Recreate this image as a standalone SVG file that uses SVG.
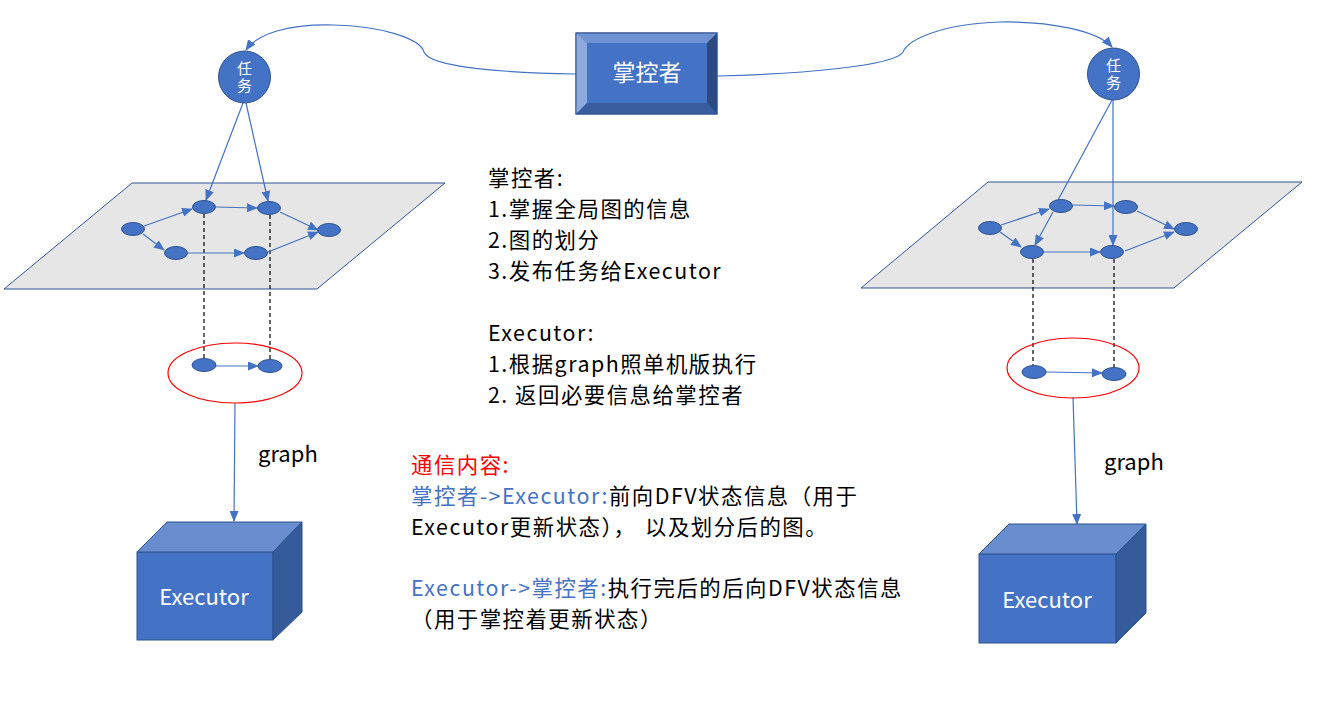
<svg xmlns="http://www.w3.org/2000/svg" width="1317" height="725" viewBox="0 0 1317 725">
<style>
.cn{font-family:"Noto Sans CJK SC","Liberation Sans",sans-serif}
.plane{fill:#e6e6e6;stroke:#2f5597;stroke-width:1}
.nd{fill:#4472c4;stroke:#2f528f;stroke-width:1}
.ed{stroke:#4472c4;stroke-width:1.2;fill:none;marker-end:url(#ah)}
.ln{stroke:#4472c4;stroke-width:1.2;fill:none}
.dash{stroke:#000;stroke-width:1.2;stroke-dasharray:4,3;fill:none}
.red{fill:none;stroke:#ff0000;stroke-width:1.2}
.txt{font-size:21.4px;letter-spacing:1.5px;fill:#000}
.lbl{font-size:22px;fill:#000}
.blue{fill:#4472c4}
.redt{fill:#ff0000}
.white{fill:#fff}
.vt{writing-mode:vertical-rl;font-size:15px;letter-spacing:2px}
</style>
<defs>
<marker id="ah" markerUnits="userSpaceOnUse" markerWidth="11" markerHeight="9" refX="10" refY="4.5" orient="auto">
<path d="M0,0 L11,4.5 L0,9 Z" fill="#4472c4"/>
</marker>
</defs>
<rect width="1317" height="725" fill="#fff"/>

<g id="plane-left">
<polygon class="plane" points="132,183 445,183 317,289 4,289"/>
</g>
<g id="plane-right">
<polygon class="plane" points="988,182 1302,182 1174,288 861,288"/>
</g>

<g id="connectors">
<path class="ed" d="M576,74 C510,73 430,68 424,52 C420,38 380,26 333,25 C290,24 258,33 246,50"/>
<path class="ed" d="M717,76 C800,74 895,66 903,52 C908,40 940,24 1000,22 C1050,21 1098,31 1112,47"/>
<line class="ed" x1="243" y1="103" x2="206" y2="200"/>
<line class="ed" x1="246" y1="103" x2="268" y2="201"/>
<line class="ln" x1="1112" y1="100" x2="1058" y2="200"/>
<line class="ed" x1="1113" y1="100" x2="1113" y2="245"/>
<line class="dash" x1="204" y1="214" x2="204" y2="360"/>
<line class="dash" x1="270" y1="215" x2="270" y2="360"/>
<line class="dash" x1="1033" y1="259" x2="1033" y2="365"/>
<line class="dash" x1="1114" y1="259" x2="1114" y2="367"/>
<line class="ed" x1="235" y1="403" x2="234" y2="521"/>
<line class="ed" x1="1073" y1="397" x2="1077" y2="524"/>
<line class="ed" x1="144" y1="226" x2="192" y2="209"/>
<line class="ed" x1="143" y1="234" x2="164" y2="250"/>
<line class="ed" x1="216" y1="207" x2="257" y2="208"/>
<line class="ed" x1="188" y1="253" x2="244" y2="253"/>
<line class="ed" x1="280" y1="212" x2="318" y2="230"/>
<line class="ed" x1="268" y1="252" x2="318" y2="232"/>
<line class="ed" x1="1001" y1="225" x2="1049" y2="209"/>
<line class="ed" x1="1000" y1="232" x2="1021" y2="247"/>
<line class="ed" x1="1073" y1="205" x2="1114" y2="206"/>
<line class="ed" x1="1053" y1="212" x2="1035" y2="245"/>
<line class="ed" x1="1044" y1="252" x2="1100" y2="252"/>
<line class="ed" x1="1137" y1="211" x2="1174" y2="229"/>
<line class="ed" x1="1125" y1="251" x2="1174" y2="232"/>
<line class="ed" x1="216" y1="366" x2="258" y2="366"/>
<line class="ed" x1="1046" y1="372" x2="1102" y2="373"/>
</g>

<g id="master">
<rect x="576" y="33" width="141" height="81" fill="#4472c4" stroke="#2f528f"/>
<polygon points="576,33 717,33 707,43 587,43" fill="#6f93d3"/>
<polygon points="576,33 587,43 587,103 576,114" fill="#8eaadc"/>
<polygon points="717,33 707,43 707,103 717,114" fill="#2c4a80"/>
<polygon points="576,114 587,103 707,103 717,114" fill="#385d9f"/>
<rect x="576" y="33" width="141" height="81" fill="none" stroke="#2f528f"/>
<text class="cn white" x="647" y="81" font-size="23" text-anchor="middle">掌控者</text>
</g>

<g id="task-left">
<circle class="nd" cx="244.5" cy="77" r="26"/>
<text class="cn white vt" x="244.5" y="78" text-anchor="middle">任务</text>
</g>
<g id="task-right">
<circle class="nd" cx="1113.5" cy="74" r="26"/>
<text class="cn white vt" x="1113.5" y="75" text-anchor="middle">任务</text>
</g>

<g id="nodes-left">
<ellipse class="nd" cx="133" cy="229" rx="11.5" ry="6.5"/>
<ellipse class="nd" cx="204" cy="207" rx="11.5" ry="6.5"/>
<ellipse class="nd" cx="269" cy="208" rx="11.5" ry="6.5"/>
<ellipse class="nd" cx="176" cy="253" rx="11.5" ry="6.5"/>
<ellipse class="nd" cx="256" cy="253" rx="11.5" ry="6.5"/>
<ellipse class="nd" cx="329" cy="230" rx="11.5" ry="6.5"/>
</g>
<g id="nodes-right">
<ellipse class="nd" cx="990" cy="228" rx="11.5" ry="6.5"/>
<ellipse class="nd" cx="1061" cy="206" rx="11.5" ry="6.5"/>
<ellipse class="nd" cx="1126" cy="207" rx="11.5" ry="6.5"/>
<ellipse class="nd" cx="1032" cy="252" rx="11.5" ry="6.5"/>
<ellipse class="nd" cx="1112" cy="252" rx="11.5" ry="6.5"/>
<ellipse class="nd" cx="1186" cy="229" rx="11.5" ry="6.5"/>
</g>

<g id="sub-left">
<ellipse class="red" cx="235" cy="373" rx="67" ry="30"/>
<ellipse class="nd" cx="204" cy="365" rx="12" ry="6.5"/>
<ellipse class="nd" cx="270" cy="366" rx="12" ry="6.5"/>
</g>
<g id="sub-right">
<ellipse class="red" cx="1073" cy="368" rx="66" ry="30"/>
<ellipse class="nd" cx="1034" cy="372" rx="12" ry="6.5"/>
<ellipse class="nd" cx="1114" cy="374" rx="12" ry="6.5"/>
</g>

<g id="label-graph-left"><text class="cn lbl" x="258" y="462">graph</text></g>
<g id="label-graph-right"><text class="cn lbl" x="1104" y="470">graph</text></g>

<g id="executor-left">
<rect x="137" y="552" width="136" height="88" fill="#4472c4" stroke="#2f528f"/>
<polygon points="137,552 167,522 302,522 273,552" fill="#698ed0" stroke="#2f528f"/>
<polygon points="273,552 302,522 302,612 273,640" fill="#355b9b" stroke="#2f528f"/>
<text class="cn white" x="204" y="605" font-size="22" text-anchor="middle">Executor</text>
</g>
<g id="executor-right">
<rect x="979" y="554" width="137" height="89" fill="#4472c4" stroke="#2f528f"/>
<polygon points="979,554 1009,524 1146,524 1116,554" fill="#698ed0" stroke="#2f528f"/>
<polygon points="1116,554 1146,524 1146,613 1116,643" fill="#355b9b" stroke="#2f528f"/>
<text class="cn white" x="1047" y="608" font-size="22" text-anchor="middle">Executor</text>
</g>

<g id="notes" class="cn txt">
<text x="488" y="186">掌控者:</text>
<text x="488" y="217">1.掌握全局图的信息</text>
<text x="488" y="248">2.图的划分</text>
<text x="488" y="279">3.发布任务给Executor</text>
<text x="488" y="341">Executor:</text>
<text x="488" y="372">1.根据graph照单机版执行</text>
<text x="488" y="403">2. 返回必要信息给掌控者</text>
<text x="411" y="473" class="redt">通信内容:</text>
<text x="411" y="504"><tspan class="blue">掌控者-&gt;Executor:</tspan>前向DFV状态信息（用于</text>
<text x="411" y="535">Executor更新状态），<tspan x="645">以及划分后的图。</tspan></text>
<text x="411" y="596"><tspan class="blue">Executor-&gt;掌控者:</tspan>执行完后的后向DFV状态信息</text>
<text x="411" y="627">（用于掌控着更新状态）</text>
</g>
</svg>
